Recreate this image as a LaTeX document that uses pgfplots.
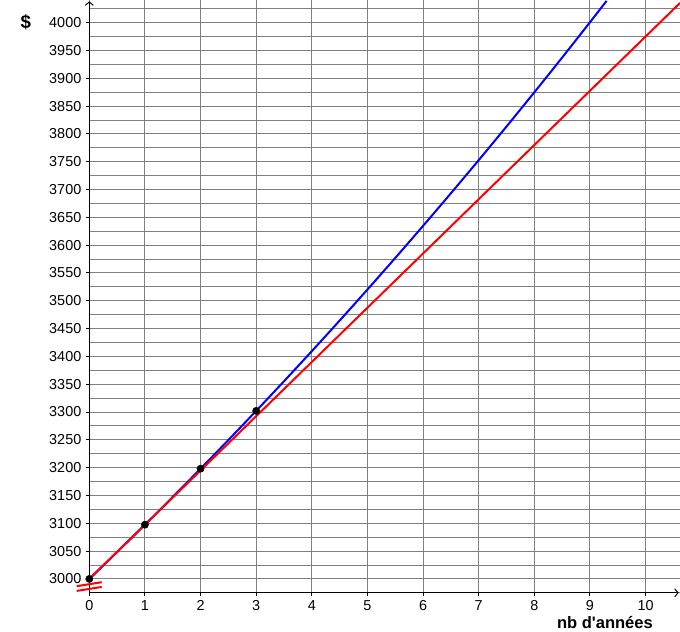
\documentclass[border=0pt]{standalone}
\usepackage{fontspec}
\setmainfont{Liberation Sans}
\usepackage{pgfplots}
\pgfplotsset{compat=1.18}
\usetikzlibrary{arrows.meta}
\definecolor{gridgray}{RGB}{128,128,128}
\begin{document}
\begin{tikzpicture}
\begin{axis}[
 scale only axis, width=442.9pt, height=444.5pt,
 xmin=0, xmax=10.62, ymin=2975, ymax=4040.8,
 axis lines=left,
 axis line style={line width=0.75pt, -{Straight Barb[length=2.5pt,width=6pt]}, shorten >=1pt},
 xtick={0,...,10}, ytick={3000,3050,...,4000},
 minor ytick={2975,3025,...,4025},
 grid=both,
 major grid style={gridgray, line width=0.75pt},
 minor grid style={gridgray, line width=0.75pt},
 tick align=outside, major tick length=2.5pt, minor tick length=0pt,
 tick style={black, line width=0.75pt},
 ticklabel style={font=\fontsize{10.8}{12}\selectfont},
 /pgf/number format/assume math mode=true,
 /pgf/number format/1000 sep={},
 scaled ticks=false,
 clip=false,
]
\addplot[blue, line width=1.5pt, smooth] coordinates {
(0,3000) (0.5,3048.36) (1,3097.5) (1.5,3147.43) (2,3198.17) (2.5,3249.72)
(3,3302.11) (3.5,3355.34) (4,3409.43) (4.5,3464.39) (5,3520.23) (5.5,3576.98)
(6,3634.64) (6.5,3693.23) (7,3752.77) (7.5,3813.26) (8,3874.73) (8.5,3937.19)
(9,4000.66) (9.3,4039.2)};
\addplot[red, line width=1.5pt] coordinates {(0,3000) (10.62,4035.45)};
\addplot[only marks, mark=*, mark size=2.7pt, black] coordinates {
(0,3000) (1,3097.5) (2,3198.17) (3,3302.11)};
\draw[red, line width=1.5pt] (axis cs:-0.227,2986.9) -- (axis cs:0.223,2994.1);
\draw[red, line width=1.5pt] (axis cs:-0.227,2978.4) -- (axis cs:0.223,2985.6);
\node[font=\fontsize{12.4}{14}\selectfont\bfseries] at (axis cs:9.27,2922) {nb d\textquotesingle ann\'ees};
\node[font=\fontsize{14}{16}\selectfont\bfseries] at (axis cs:-1.14,4001) {\$};
\coordinate (BL) at (axis cs:-1.606,2905.9);
\coordinate (TR) at (axis cs:10.62,4040.8);
\end{axis}
\pgfresetboundingbox
\path[use as bounding box] (BL) rectangle (TR);
\end{tikzpicture}
\end{document}
